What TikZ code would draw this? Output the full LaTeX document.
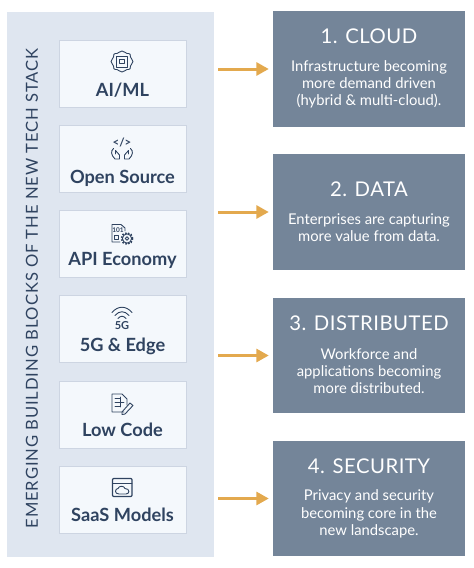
\documentclass[tikz,border=0pt]{standalone}
\usepackage{fontspec}
\setmainfont{Lato}
\usetikzlibrary{arrows.meta}
\definecolor{panelblue}{HTML}{DFE6F0}
\definecolor{cardblue}{HTML}{F4F8FC}
\definecolor{cardedge}{HTML}{CDD5E2}
\definecolor{slateblue}{HTML}{748599}
\definecolor{inkblue}{HTML}{2F4360}
\definecolor{flowgold}{HTML}{E3A94E}
\tikzset{
  card/.style={draw=cardedge, line width=0.9pt, fill=cardblue, minimum width=127pt, minimum height=67pt, inner sep=0pt},
  cardlabel/.style={anchor=base, inner sep=0pt, text=inkblue, font=\fontsize{18.2}{20}\selectfont\bfseries},
  trend/.style={fill=slateblue, minimum width=192pt, minimum height=115.5pt, inner sep=0pt},
  trendtitle/.style={text=white, font=\fontsize{20.3}{24}\selectfont\addfontfeature{LetterSpace=2.5}},
  trendtext/.style={text=white, align=center, font=\fontsize{14.8}{17.3}\selectfont},
  flow/.style={draw=flowgold, line width=3pt, -{Triangle[length=12.5pt,width=13pt]}, shorten <=4pt, shorten >=4pt},
  icon/.style={draw=inkblue, line width=0.9pt, line join=round, line cap=round}
}
\begin{document}
\begin{tikzpicture}[x=1pt,y=-1pt]
    \useasboundingbox (0,0) rectangle (474,568);

    % Left panel
    \node[fill=panelblue, minimum width=207pt, minimum height=545pt, inner sep=0pt] (panel) at (110.5,284.5) {};
    \node[rotate=90, text=inkblue, font=\fontsize{16.6}{18}\selectfont\addfontfeature{LetterSpace=5.5}] (stacktitle) at (32,288.5) {EMERGING BUILDING BLOCKS OF THE NEW TECH STACK};

    % Building block cards
    \node[card] (aiml) at (122.5,73.5) {};
    \node[card] (opensource) at (122.5,158.5) {};
    \node[card] (apieconomy) at (122.5,244) {};
    \node[card] (edge) at (122.5,329) {};
    \node[card] (lowcode) at (122.5,414.5) {};
    \node[card] (saas) at (122.5,499.5) {};

    % Card labels
    \node[cardlabel] (aimllabel) at (122.5,96) {AI/ML};
    \node[cardlabel] (opensourcelabel) at (122.5,183) {Open Source};
    \node[cardlabel] (apilabel) at (122.5,265) {API Economy};
    \node[cardlabel] (edgelabel) at (122.5,351.5) {5G \& Edge};
    \node[cardlabel] (lowcodelabel) at (122.5,436.5) {Low Code};
    \node[cardlabel] (saaslabel) at (122.5,521) {SaaS Models};

    % Icon: chip in a gear
    \draw[icon] (122,51) .. controls (125,51) and (125,53.5) .. (127,53.5) .. controls (130,53) and (131,55) .. (130.5,57)
      .. controls (130.5,59) and (133,59) .. (133,61.5) .. controls (133,64) and (130.5,64) .. (130.5,66)
      .. controls (131,68) and (130,70) .. (127,69.5) .. controls (125,69.5) and (125,72) .. (122,72)
      .. controls (119,72) and (119,69.5) .. (117,69.5) .. controls (114,70) and (113,68) .. (113.5,66)
      .. controls (113.5,64) and (111,64) .. (111,61.5) .. controls (111,59) and (113.5,59) .. (113.5,57)
      .. controls (113,55) and (114,53) .. (117,53.5) .. controls (119,53.5) and (119,51) .. (122,51) -- cycle;
    \draw[icon] (116.5,56) rectangle (127.5,67);
    \draw[icon] (119.8,59.3) rectangle (124.2,63.7);

    % Icon: code and hands
    \node[text=inkblue, inner sep=0pt, font=\fontsize{11.5}{12}\selectfont\bfseries] (codemark) at (122,142.5) {</>};
    \draw[icon] (113.5,148.5) .. controls (110.5,151) and (111,155) .. (115,159) -- (119.5,159) -- (119.5,155) -- (115.5,150.5) -- (115.5,154);
    \draw[icon] (130.5,148.5) .. controls (133.5,151) and (133,155) .. (129,159) -- (124.5,159) -- (124.5,155) -- (128.5,150.5) -- (128.5,154);

    % Icon: card with gear
    \draw[icon] (125,231) -- (125,228) -- (121,224.5) -- (112,224.5) -- (112,242) -- (120,242);
    \node[text=inkblue, inner sep=0pt, font=\fontsize{6.5}{7}\selectfont\bfseries] (binarymark) at (118,230.5) {101};
    \draw[icon] (114.5,235) rectangle (118,239);
    \draw[icon, line width=1.7pt, dash pattern=on 1.5pt off 1.5pt, line cap=butt] (127,238.5) circle (5.6pt);
    \draw[icon] (127,238.5) circle (4.6pt);
    \draw[icon] (127,238.5) circle (1.7pt);

    % Icon: wireless with 5G
    \draw[icon] (112,312.5) .. controls (118,305.5) and (126,305.5) .. (132,312.5);
    \draw[icon] (115,315.5) .. controls (119,310.5) and (125,310.5) .. (129,315.5);
    \draw[icon] (118,318.5) .. controls (120.5,315.5) and (123.5,315.5) .. (126,318.5);
    \node[text=inkblue, inner sep=0pt, font=\fontsize{11}{11}\selectfont\bfseries] (fivegmark) at (122,325.5) {5G};

    % Icon: document with pen
    \draw[icon] (124,412) -- (112,412) -- (112,394) -- (122,394) -- (127,399) -- (127,405);
    \draw[icon] (115,398) -- (120,398) (115,402) -- (120,402) (115,406) -- (120,406) (120.5,397) -- (120.5,407) (120.5,402) -- (124,402);
    \draw[icon] (122,412) -- (130,403) -- (133,405.5) -- (125,414) -- (122,414.5) -- cycle;

    % Icon: window with cloud
    \draw[icon, line width=1.1pt, rounded corners=1pt] (112.5,478.5) rectangle (132,496.5);
    \draw[icon] (112.5,483) -- (132,483);
    \draw[icon] (119,494) .. controls (114,494) and (115,488.5) .. (118,488.5) .. controls (119,485.5) and (124,485.5) .. (125,488.5)
      .. controls (130,488.5) and (130,494) .. (126,494) -- cycle;

    % Trend boxes
    \node[trend] (cloud) at (369,69) {};
    \node[trend] (data) at (369,212) {};
    \node[trend] (distributed) at (369,355.5) {};
    \node[trend] (security) at (369,498.5) {};

    % Trend titles
    \node[trendtitle] (cloudtitle) at (369,36) {1. CLOUD};
    \node[trendtitle] (datatitle) at (369,189) {2. DATA};
    \node[trendtitle] (distributedtitle) at (369,323) {3. DISTRIBUTED};
    \node[trendtitle] (securitytitle) at (369,466) {4. SECURITY};

    % Trend texts
    \node[trendtext] (cloudtext) at (369,84.5) {Infrastructure becoming\\more demand driven\\(hybrid \& multi-cloud).};
    \node[trendtext] (datatext) at (369,228) {Enterprises are capturing\\more value from data.};
    \node[trendtext] (distributedtext) at (369,371) {Workforce and\\applications becoming\\more distributed.};
    \node[trendtext] (securitytext) at (369,514) {Privacy and security\\becoming core in the\\new landscape.};

    % Arrows
    \foreach \trendname in {cloud,data,distributed,security}{
      \draw[flow] (panel.east |- \trendname.west) -- (\trendname.west);
    }
\end{tikzpicture}
\end{document}
